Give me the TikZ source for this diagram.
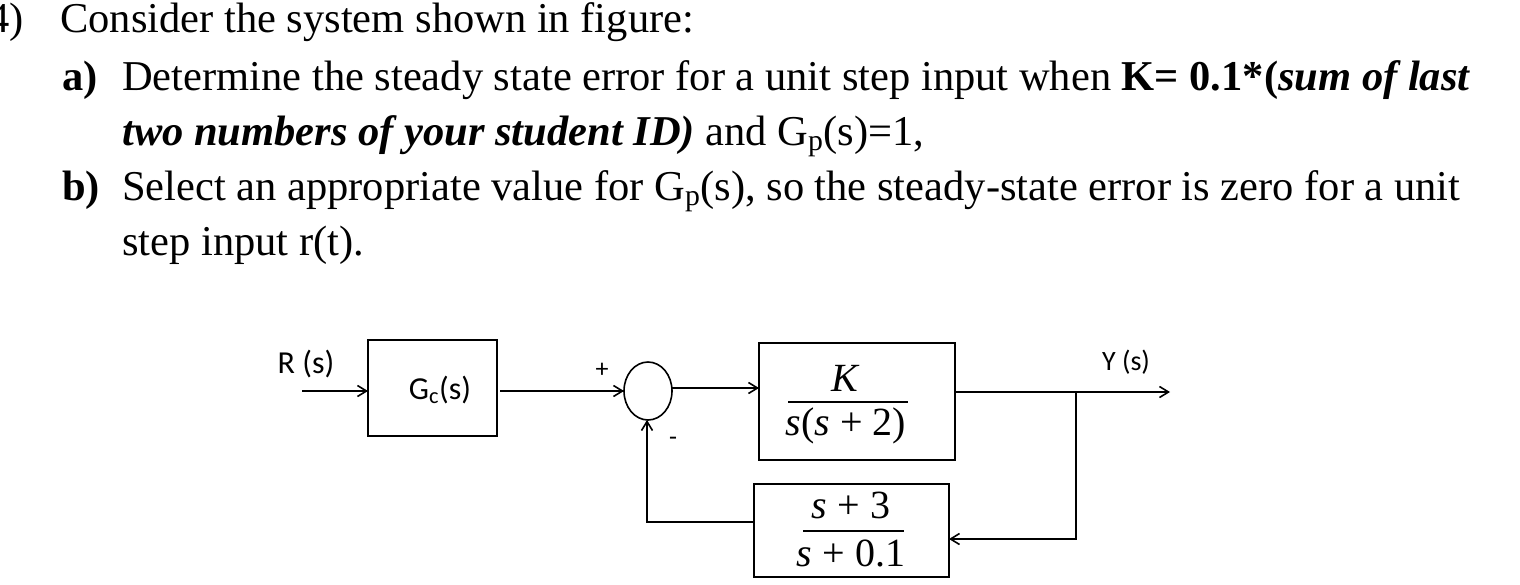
\documentclass[tikz,border=0pt]{standalone}
\usepackage{fontspec}
\setmainfont{Liberation Serif}
\newfontfamily\lblfont{Carlito}
\usetikzlibrary{arrows.meta}
\begin{document}
\begin{tikzpicture}[x=1pt,y=-1pt,
  blk/.style={draw,line width=1.6pt},
  con/.style={line width=1.6pt,-{Straight Barb[length=9pt,width=11pt]}},
  ln/.style={line width=1.6pt},
  qt/.style={anchor=base west,inner sep=0pt,font=\fontsize{42.5}{48}\selectfont},
  lb/.style={inner sep=0pt,font=\lblfont\fontsize{32}{36}\selectfont},
  sg/.style={inner sep=0pt,font=\lblfont\fontsize{26}{28}\selectfont},
  mt/.style={inner sep=0pt,font=\fontsize{40}{46}\selectfont}]
\useasboundingbox (0,0) rectangle (1520,584);
\node[qt] (q0n) at (-12,32) {4)};
\node[qt] (q0) at (60,32) {Consider the system shown in figure:};
\node[qt] (qa) at (62,90) {\textbf{a)}};
\node[qt] (qa1) at (122,90) {Determine the steady state error for a unit step input when \textbf{K= 0.1*(\textit{sum of last}}};
\node[qt] (qa2) at (122,145) {\textbf{\textit{two numbers of your student ID)}} and G\textsubscript{p}(s)=1,};
\node[qt] (qb) at (62,200) {\textbf{b)}};
\node[qt] (qb1) at (122,200) {Select an appropriate value for G\textsubscript{p}(s), so the steady-state error is zero for a unit};
\node[qt] (qb2) at (122,255) {step input r(t).};
% blocks
\draw[blk] (368,340) rectangle (497,436);
\node[lb] (gc) at (440,390) {G\textsubscript{c}(s)};
\draw[blk] (759,343) rectangle (955,460);
\coordinate (gl) at (759,388); \coordinate (gr) at (955,392);
\node[mt] (gnum) at (846,378) {\textit{K}};
\node[mt] (gden) at (846,426) {\textit{s}(\textit{s} + 2)};
\draw[ln] (788,402) -- (908,402);
\draw[blk] (754,484) rectangle (949,577);
\coordinate (hl) at (754,522); \coordinate (hr) at (949,539);
\node[mt] (hnum) at (851,505) {\textit{s} + 3};
\node[mt] (hden) at (851,553) {\textit{s} + 0.1};
\draw[ln] (803,531) -- (904,531);
% sum
\draw[ln] (648,391) ellipse [x radius=24, y radius=29];
\coordinate (sl) at (624,391); \coordinate (sr) at (672,388); \coordinate (sb) at (647,420);
\node[sg] (plus) at (602,370) {+};
\node[sg] (minus) at (673,441) {-};
\node[lb] (R) at (306,364) {R (s)};
\node[lb,font=\lblfont\fontsize{28}{32}\selectfont] (Y) at (1126,362) {Y (s)};
\coordinate (rin) at (302,391); \coordinate (gcl) at (368,391); \coordinate (gcr) at (500,391);
\coordinate (yout) at (1170,392); \coordinate (br) at (1076,392);
\draw[con] (rin) -- (gcl);
\draw[con] (gcr) -- (sl);
\draw[con] (sr) -- (gl);
\draw[con] (gr) -- (yout);
\draw[con] (br) |- (hr);
\draw[con] (hl) -| (sb);
\end{tikzpicture}
\end{document}
